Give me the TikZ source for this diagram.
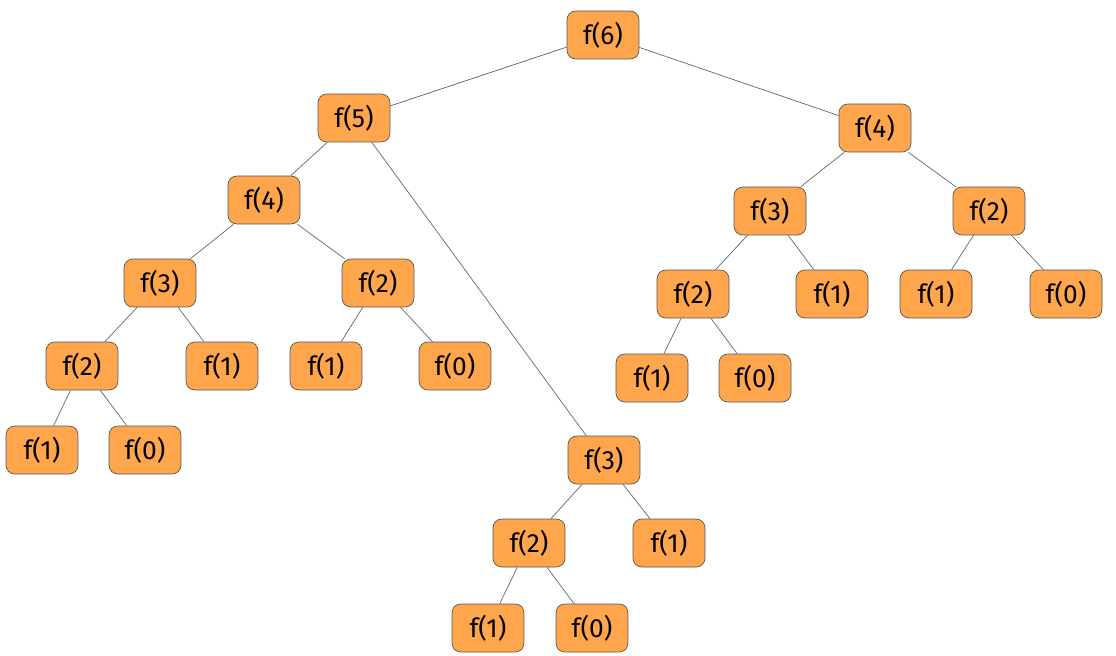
\documentclass[tikz,border=0pt]{standalone}
\usepackage{fontspec}
\setmainfont{Fira Sans}
\usepackage{tikz}
\definecolor{callfill}{HTML}{FFA64D}
\definecolor{calledge}{HTML}{555555}
\tikzset{
  call/.style={draw=calledge,fill=callfill,rounded corners=5pt,minimum width=1.44cm,
    minimum height=0.96cm,font=\fontsize{15}{18}\selectfont},
  link/.style={draw=calledge!90,thin}
}
\begin{document}
\begin{tikzpicture}[x=0.02cm,y=-0.02cm]
    \useasboundingbox (0,0) rectangle (1116,656);

    % Top levels
    \node[call] (f6) at (603,35) {f(6)};
    \node[call] (f5) at (354,118) {f(5)};
    \node[call] (f4r) at (875,128) {f(4)};

    % Left branch of f(5)
    \node[call] (f4l) at (264,200) {f(4)};
    \node[call] (f3l) at (160,283) {f(3)};
    \node[call] (f2l) at (378,283) {f(2)};
    \node[call] (f2ll) at (82,366) {f(2)};
    \node[call] (f1a) at (222,366) {f(1)};
    \node[call] (f1b) at (326,366) {f(1)};
    \node[call] (f0b) at (455,366) {f(0)};
    \node[call] (f1c) at (42,450) {f(1)};
    \node[call] (f0c) at (145,450) {f(0)};

    % Middle branch of f(5)
    \node[call] (f3m) at (604,460) {f(3)};
    \node[call] (f2m) at (529,543) {f(2)};
    \node[call] (f1m) at (669,543) {f(1)};
    \node[call] (f1n) at (488,628) {f(1)};
    \node[call] (f0n) at (592,628) {f(0)};

    % Right branch
    \node[call] (f3r) at (770,211) {f(3)};
    \node[call] (f2r) at (989,211) {f(2)};
    \node[call] (f2rr) at (693,294) {f(2)};
    \node[call] (f1r) at (832,294) {f(1)};
    \node[call] (f1s) at (936,294) {f(1)};
    \node[call] (f0s) at (1066,294) {f(0)};
    \node[call] (f1t) at (652,378) {f(1)};
    \node[call] (f0t) at (755,378) {f(0)};

    % Edges
    \foreach \a/\b in {f6/f5,f6/f4r,f5/f4l,f5/f3m,f4l/f3l,f4l/f2l,f3l/f2ll,f3l/f1a,
        f2l/f1b,f2l/f0b,f2ll/f1c,f2ll/f0c,f3m/f2m,f3m/f1m,f2m/f1n,f2m/f0n,
        f4r/f3r,f4r/f2r,f3r/f2rr,f3r/f1r,f2r/f1s,f2r/f0s,f2rr/f1t,f2rr/f0t}
        \draw[link] (\a) -- (\b);
\end{tikzpicture}
\end{document}
